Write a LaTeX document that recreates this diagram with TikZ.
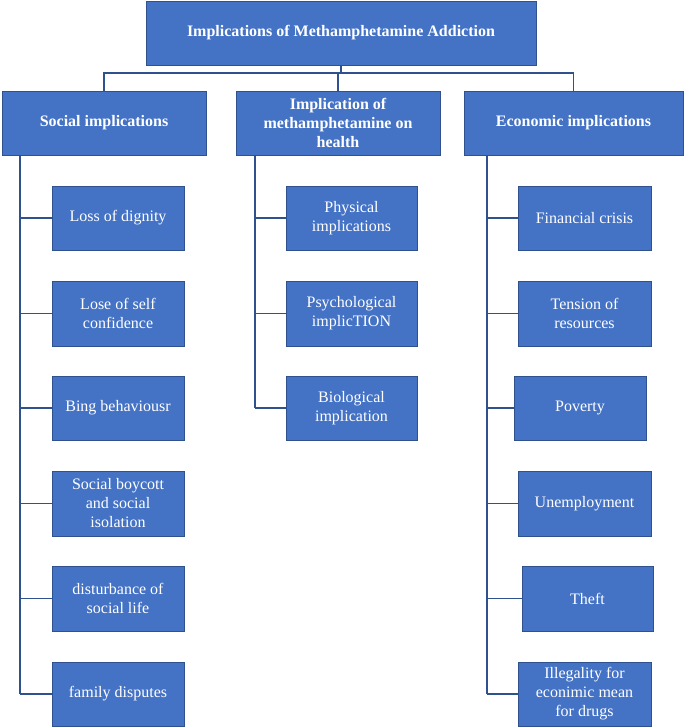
\documentclass[tikz,border=0pt]{standalone}
\usepackage{fontspec}
\setmainfont{Liberation Serif}
\definecolor{boxfill}{HTML}{4472C4}
\definecolor{boxline}{HTML}{2F528F}
\begin{document}
\begin{tikzpicture}[x=1pt,y=-1pt,
  bx/.style={draw=boxline,fill=boxfill,text=white,line width=0.8pt,align=center,inner sep=0pt,font=\fontsize{16}{19}\selectfont},
  hd/.style={bx,font=\fontsize{16}{19}\selectfont\bfseries},
  cn/.style={draw=boxline,line width=1.2pt}]
\useasboundingbox (0,0) rectangle (685,727);
\newcommand{\bxat}[6]{\node[#1,minimum width=#4-#2,minimum height=#5-#3] (#6) at ({(#2+#4)/2},{(#3+#5)/2})}
\bxat{hd}{146}{1}{536}{65}{top} {Implications of Methamphetamine Addiction};
\bxat{hd}{2}{91}{206}{155}{soc} {Social implications};
\bxat{hd}{236}{91}{440}{155}{hea} {Implication of\\methamphetamine on\\health};
\bxat{hd}{464}{91}{683}{155}{eco} {Economic implications};
\bxat{bx}{52}{186}{184}{250}{s1} {Loss of dignity};
\bxat{bx}{52}{281}{184}{346}{s2} {Lose of self\\confidence};
\bxat{bx}{52}{376}{184}{440}{s3} {Bing behaviousr};
\bxat{bx}{52}{471}{184}{536}{s4} {Social boycott\\and social\\isolation};
\bxat{bx}{52}{566}{184}{631}{s5} {disturbance of\\social life};
\bxat{bx}{52}{662}{184}{726}{s6} {family disputes};
\bxat{bx}{286}{186}{417}{250}{h1} {Physical\\implications};
\bxat{bx}{286}{281}{417}{346}{h2} {Psychological\\implicTION};
\bxat{bx}{286}{376}{417}{440}{h3} {Biological\\implication};
\bxat{bx}{518}{186}{651}{250}{e1} {Financial crisis};
\bxat{bx}{518}{281}{651}{346}{e2} {Tension of\\resources};
\bxat{bx}{514}{376}{646}{440}{e3} {Poverty};
\bxat{bx}{518}{471}{651}{536}{e4} {Unemployment};
\bxat{bx}{522}{566}{653}{631}{e5} {Theft};
\bxat{bx}{518}{662}{651}{726}{e6} {Illegality for\\econimic mean\\for drugs};
\coordinate (j) at (341,73);
\draw[cn] (top.south) -- (j);
\draw[cn] (soc.north) -- ++(0,-18) -| (hea.north);
\draw[cn] (j) -| (eco.north);
\draw[cn] (j) -| (soc.north);
\draw[cn] (20,155) -- (20,694);
\foreach \n in {s1,s2,s3,s4,s5,s6} \draw[cn] (20,0 |- \n.west) -- (\n.west);
\draw[cn] (255,155) -- (255,408);
\foreach \n in {h1,h2,h3} \draw[cn] (255,0 |- \n.west) -- (\n.west);
\draw[cn] (487,155) -- (487,694);
\foreach \n in {e1,e2,e3,e4,e5,e6} \draw[cn] (487,0 |- \n.west) -- (\n.west);
\end{tikzpicture}
\end{document}
